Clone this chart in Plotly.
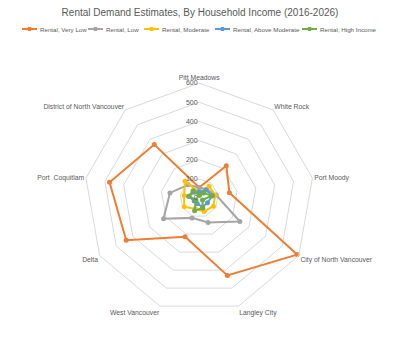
import plotly.graph_objects as go

categories = ["Pitt Meadows", "White Rock", "Port Moody", "City of North Vancouver",
              "Langley City", "West Vancouver", "Delta", "Port  Coquitlam",
              "District of North Vancouver"]
very_low = [55, 220, 160, 590, 430, 215, 440, 475, 365]
low = [55, 60, 90, 245, 135, 110, 215, 155, 90]
moderate = [30, 80, 85, 85, 75, 60, 90, 80, 115]
above_moderate = [30, 55, 70, 50, 50, 30, 30, 55, 40]
high_income = [15, 35, 65, 20, 55, 70, 20, 55, 50]

series = [
    ("Rental, Very Low", very_low, "#ED7D31"),
    ("Rental, Low", low, "#A5A5A5"),
    ("Rental, Moderate", moderate, "#FFC000"),
    ("Rental, Above Moderate", above_moderate, "#5B9BD5"),
    ("Rental, High Income", high_income, "#70AD47"),
]
# legend entry start positions (px in the page)
legend_x = [22, 88, 144, 215, 302]

W, H = 400, 361
OFF = 8  # page body margin
font = "Liberation Sans"

def px(x):
    return (x - OFF) / W

def py(y):
    return 1 - (y - OFF) / H

fig = go.Figure()
shapes, annotations = [], []
ly = py(29)
for (name, vals, color), lx in zip(series, legend_x):
    fig.add_trace(go.Scatterpolar(
        r=vals + vals[:1], theta=categories + categories[:1], name=name,
        mode="lines+markers", line=dict(color=color, width=2),
        marker=dict(size=5, color=color), showlegend=False))
    shapes.append(dict(type="line", xref="paper", yref="paper",
                       x0=px(lx), x1=px(lx + 15), y0=ly, y1=ly,
                       line=dict(color=color, width=2)))
    shapes.append(dict(type="rect", xref="paper", yref="paper",
                       x0=px(lx + 6), x1=px(lx + 9),
                       y0=ly - 1.5 / H, y1=ly + 1.5 / H,
                       line=dict(color=color, width=1), fillcolor=color))
    annotations.append(dict(text=name, xref="paper", yref="paper",
                            x=px(lx + 16), y=ly, xanchor="left", yanchor="middle",
                            showarrow=False,
                            font=dict(size=6.2, color="#595959", family=font)))

fig.update_layout(
    width=W, height=H, paper_bgcolor="white",
    margin=dict(l=0, r=0, t=0, b=0),
    font=dict(family=font, color="#595959", size=7),
    showlegend=False,
    shapes=shapes, annotations=annotations,
    title=dict(text="Rental Demand Estimates, By Household Income (2016-2026)",
               x=px(200), xanchor="center", y=py(12), yanchor="middle",
               font=dict(size=10, color="#595959", family=font)),
    polar=dict(
        domain=dict(x=[0.1905, 0.7655], y=[0.155, 0.792]),
        gridshape="linear", bgcolor="white",
        angularaxis=dict(rotation=90, direction="clockwise", showgrid=False,
                         showline=True, linecolor="#D9D9D9", linewidth=1,
                         ticks="", tickfont=dict(size=6.8, color="#595959")),
        radialaxis=dict(range=[0, 600], dtick=100, angle=90, showline=False,
                        gridcolor="#D9D9D9", ticks="", side="counterclockwise",
                        tickangle=90, tickfont=dict(size=7, color="#595959")),
    ),
)
fig.write_html("out.html")
